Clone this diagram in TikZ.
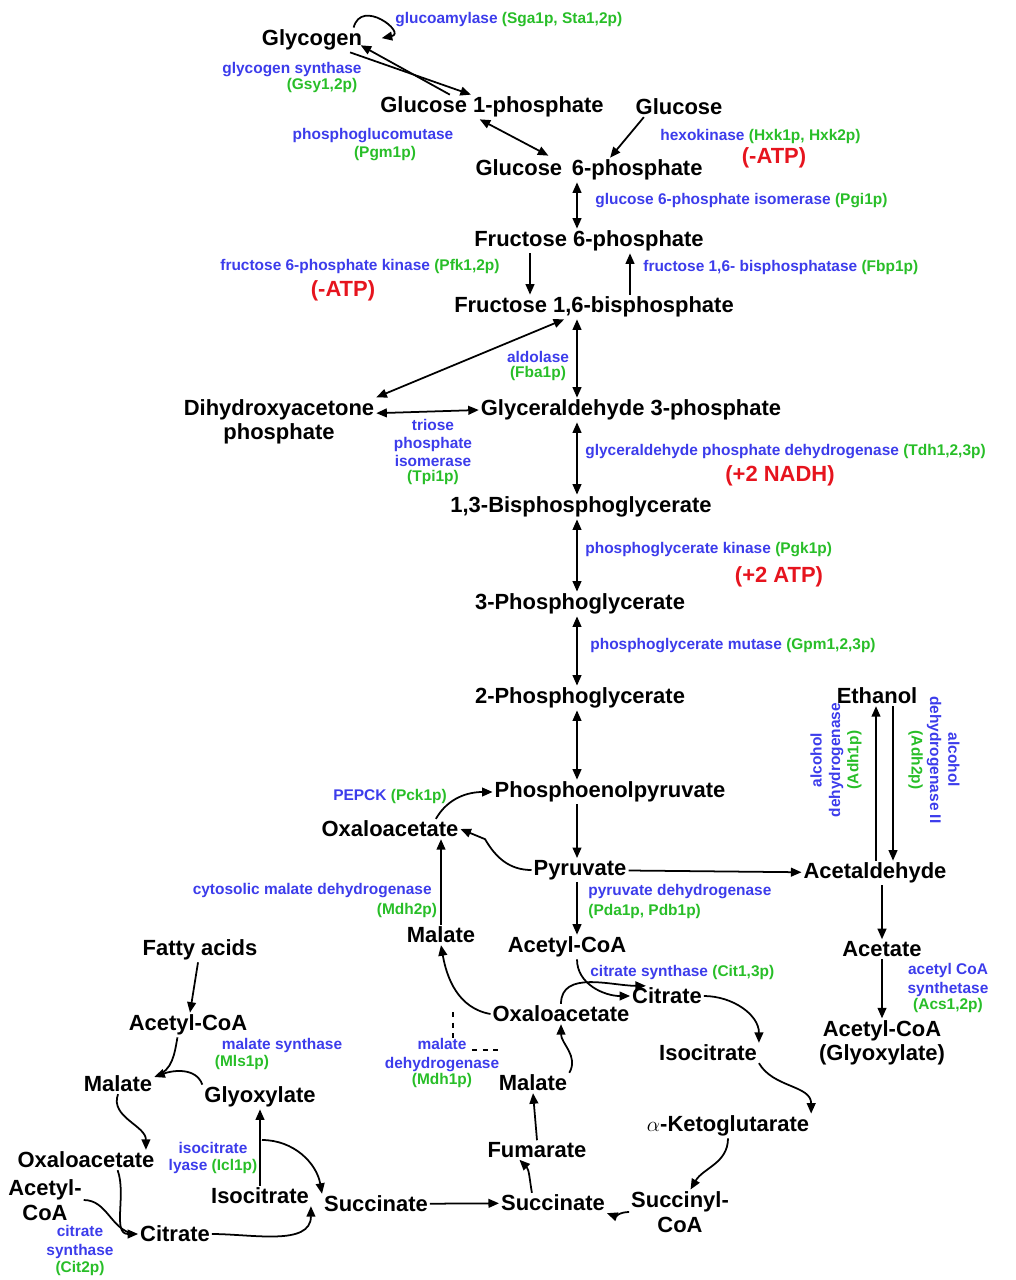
\documentclass[tikz,border=0pt]{standalone}
\usepackage{fontspec}
\setmainfont{Liberation Sans}
\usetikzlibrary{arrows.meta,calc}
\definecolor{eb}{RGB}{60,60,235}
\definecolor{eg}{RGB}{40,190,40}
\definecolor{er}{RGB}{230,20,30}
\begin{document}
\begin{tikzpicture}[x=0.02cm,y=-0.02cm,
 m/.style={font=\bfseries\fontsize{12.5}{14}\selectfont,inner sep=1pt,align=center},
 en/.style={font=\bfseries\fontsize{8.8}{10.5}\selectfont,text=eb,inner sep=0pt,align=center},
 gr/.style={font=\bfseries\fontsize{8.8}{10.5}\selectfont,text=eg,inner sep=0pt,align=center},
 rd/.style={font=\bfseries\fontsize{12.5}{14}\selectfont,text=er,inner sep=0pt},
 ar/.style={-{Triangle[length=6pt,width=5pt]},line width=1pt},
 dar/.style={{Triangle[length=6pt,width=5pt]}-{Triangle[length=6pt,width=5pt]},line width=1pt}]
\useasboundingbox (0,0) rectangle (1016,1280);
\coordinate (X) at (577,0);
% metabolites
\node[m] (gly) at (312,40) {Glycogen};
\node[m] (g1p) at (492,107) {Glucose 1-phosphate};
\node[m] (glc) at (679,107) {Glucose};
\node[m] (g6p) at (589,170) {Glucose\, 6-phosphate};
\node[m] (f6p) at (589,241) {Fructose 6-phosphate};
\node[m] (fbp) at (594,307) {Fructose 1,6-bisphosphate};
\node[m] (dhap) at (279,422) {Dihydroxyacetone\\phosphate};
\node[m] (gap) at (631,410) {Glyceraldehyde 3-phosphate};
\node[m] (bpg) at (581,507) {1,3-Bisphosphoglycerate};
\node[m] (pg3) at (580,604) {3-Phosphoglycerate};
\node[m] (pg2) at (580,698) {2-Phosphoglycerate};
\node[m] (pep) at (610,792) {Phosphoenolpyruvate};
\node[m] (oac) at (390,829) {Oxaloacetate};
\node[m] (pyr) at (580,870) {Pyruvate};
\node[m] (ald) at (875,873) {Acetaldehyde};
\node[m] (eth) at (877,696) {Ethanol};
\node[m] (malc) at (441,935) {Malate};
\node[m] (acoa) at (567,947) {Acetyl-CoA};
\node[m] (ace) at (882,949) {Acetate};
\node[m] (acg) at (882,1043) {Acetyl-CoA\\(Glyoxylate)};
\node[m] (cit) at (667,996) {Citrate};
\node[m] (oam) at (561,1014) {Oxaloacetate};
\node[m] (icit) at (708,1053) {Isocitrate};
\node[m] (malm) at (533,1083) {Malate};
\node[m] (akg) at (728,1126) {$\alpha$-Ketoglutarate};
\node[m] (fum) at (537,1150) {Fumarate};
\node[m] (sucm) at (553,1203) {Succinate};
\node[m] (scoa) at (680,1212) {Succinyl-\\CoA};
\node[m] (fa) at (200,950) {Fatty acids};
\node[m] (acl) at (188,1025) {Acetyl-CoA};
\node[m] (malg) at (118,1084) {Malate};
\node[m] (glx) at (260,1097) {Glyoxylate};
\node[m] (oag) at (86,1160) {Oxaloacetate};
\node[m] (acl2) at (45,1200) {Acetyl-\\CoA};
\node[m] (icg) at (260,1196) {Isocitrate};
\node[m] (citg) at (175,1234) {Citrate};
\node[m] (sucg) at (376,1204) {Succinate};
% enzymes
\node[en,anchor=west] (e1) at (395,20) {glucoamylase \textcolor{eg}{(Sga1p, Sta1,2p)}};
\node[en] (e2) at (292,70) {glycogen synthase};
\node[gr] (e2b) at (322,86) {(Gsy1,2p)};
\node[en] (e3) at (373,136) {phosphoglucomutase};
\node[gr] (e3b) at (385,154) {(Pgm1p)};
\node[en,anchor=west] (e4) at (660,137) {hexokinase \textcolor{eg}{(Hxk1p, Hxk2p)}};
\node[rd] (atp1) at (774,158) {(-ATP)};
\node[en,anchor=west] (e5) at (595,201) {glucose 6-phosphate isomerase \textcolor{eg}{(Pgi1p)}};
\node[en,anchor=west] (e6) at (220,267) {fructose 6-phosphate kinase \textcolor{eg}{(Pfk1,2p)}};
\node[rd] (atp2) at (343,291) {(-ATP)};
\node[en,anchor=west] (e7) at (643,268) {fructose 1,6- bisphosphatase \textcolor{eg}{(Fbp1p)}};
\node[en] (e8) at (538,357) {aldolase};
\node[gr] (e8b) at (538,374) {(Fba1p)};
\node[en] (e9) at (433,443) {triose\\phosphate\\isomerase};
\node[gr] (e9b) at (433,477) {(Tpi1p)};
\node[en,anchor=west] (e10) at (585,452) {glyceraldehyde phosphate dehydrogenase \textcolor{eg}{(Tdh1,2,3p)}};
\node[rd] (nadh) at (780,476) {(+2 NADH)};
\node[en,anchor=west] (e11) at (585,550) {phosphoglycerate kinase \textcolor{eg}{(Pgk1p)}};
\node[rd] (atp3) at (779,577) {(+2 ATP)};
\node[en,anchor=west] (e12) at (590,646) {phosphoglycerate mutase \textcolor{eg}{(Gpm1,2,3p)}};
\node[en] (e13) at (390,796) {PEPCK \textcolor{eg}{(Pck1p)}};
\node[en,anchor=east] (e14) at (432,891) {cytosolic malate dehydrogenase};
\node[gr] (e14b) at (407,910) {(Mdh2p)};
\node[en,anchor=west] (e15) at (588,892) {pyruvate dehydrogenase};
\node[gr,anchor=west] (e15b) at (588,911) {(Pda1p, Pdb1p)};
\node[en,rotate=90] (e16) at (836,760) {alcohol\\dehydrogenase\\\textcolor{eg}{(Adh1p)}};
\node[en,rotate=-90] (e17) at (934,760) {alcohol\\dehydrogenase II\\\textcolor{eg}{(Adh2p)}};
\node[en] (e18) at (948,980) {acetyl CoA\\synthetase};
\node[gr] (e18b) at (948,1005) {(Acs1,2p)};
\node[en,anchor=west] (e19) at (590,972) {citrate synthase \textcolor{eg}{(Cit1,3p)}};
\node[en] (e20) at (282,1045) {malate synthase};
\node[gr] (e20b) at (242,1062) {(Mls1p)};
\node[en] (e21) at (442,1055) {malate\\dehydrogenase};
\node[gr] (e21b) at (442,1080) {(Mdh1p)};
\node[en] (e22) at (213,1148) {isocitrate};
\node[en] (e22b) at (213,1166) {lyase \textcolor{eg}{(Icl1p)}};
\node[en] (e23) at (80,1242) {citrate\\synthase};
\node[gr] (e23b) at (80,1268) {(Cit2p)};
% connectors
\draw[ar] ([xshift=-6pt]gly.north east) .. controls +(8,-30) and +(25,-5) .. ([xshift=10pt,yshift=-6pt]gly.north east);
\draw[ar] ([xshift=-8pt]gly.south east) -- ([xshift=-12pt]g1p.north);
\draw[ar] ([xshift=-24pt]g1p.north) -- ([xshift=-2pt,yshift=-3pt]gly.east);
\draw[dar] ([xshift=-7pt]g1p.south) -- ($(g6p.north west)+(75,-2)$);
\draw[ar] ([xshift=-20pt]glc.south) -- ([xshift=12pt]g6p.north);
\draw[dar] (g6p.south -| X) -- (f6p.north -| X);
\coordinate (XL) at (530,0); \coordinate (XR) at (630,0);
\draw[ar] (f6p.south -| XL) -- (fbp.north -| XL);
\draw[ar] (fbp.north -| XR) -- (f6p.south -| XR);
\draw[dar] ([xshift=-17pt]fbp.south) -- (dhap.north east);
\draw[dar] (fbp.south -| X) -- (gap.north -| X);
\draw[dar] ([yshift=5pt]dhap.east) -- (gap.west);
\draw[dar] (gap.south -| X) -- (bpg.north -| X);
\draw[dar] (bpg.south -| X) -- (pg3.north -| X);
\draw[dar] (pg3.south -| X) -- (pg2.north -| X);
\draw[dar] (pg2.south -| X) -- (pep.north -| X);
\draw[ar] (pep.south -| X) -- (pyr.north -| X);
\draw[ar] (pyr) -- (ald);
\draw[ar] (pyr.west) to[out=180,in=-60] ([xshift=14pt]oac.south east) -- (oac.east);
\draw[ar] ([xshift=-14pt]oac.north east) to[out=60,in=180] (pep.west);
\draw[ar] (malc) -- (oac.south -| malc);
\draw[ar] (oam.west) to[out=170,in=-80] (malc.south);
\coordinate (XA) at (876,0); \coordinate (XB) at (893,0);
\draw[ar] (eth.south -| XB) -- (ald.north -| XB);
\draw[ar] (ald.north -| XA) -- (eth.south -| XA);
\draw[ar] (ald.south -| ace) -- (ace.north);
\draw[ar] (ace) -- (acg);
\draw[ar] (pyr.south -| X) -- (acoa.north -| X);
\draw[ar] (acoa.south -| X) to[out=-90,in=180] (cit.west);
\draw[ar] (oam.north) to[out=90,in=180] ([xshift=-12pt]cit.north);
\draw[ar] (cit.east) to[out=0,in=90] (icit.north east);
\draw[ar] (icit.south east) to[out=-60,in=90] (akg.north east);
\draw[ar] (akg.south) to[out=-90,in=60] ([xshift=6pt]scoa.north);
\draw[ar] (scoa.west) to[out=180,in=-20] (sucm.south east);
\draw[ar] ([xshift=-12pt]sucm.north) to[out=100,in=-45] ([xshift=-10pt]fum.south);
\draw[ar] (fum.north) -- (malm.south);
\draw[ar] (malm.north east) to[out=60,in=-90] (oam.south);
\draw[dashed,line width=1pt] (453,1012) -- (453,1042);
\draw[dashed,line width=1pt] (472,1050) -- (502,1050);
% glyoxylate cycle
\draw[ar] (fa) -- (acl);
\draw[ar] (glx.north west) to[out=110,in=20] ([yshift=4pt]malg.east);
\draw[line width=1pt] ([xshift=-6pt]acl.south) to[out=-100,in=20] ($(malg.east)+(2,-8)$);
\draw[ar] (malg.south) to[out=-110,in=90] ([xshift=-6pt]oag.north east);
\draw[ar] ([xshift=18pt]oag.south) to[out=-70,in=180] (citg.west);
\draw[line width=1pt] (acl2.east) to[out=0,in=170] ($(citg.west)+(-4,0)$);
\draw[ar] (citg.east) to[out=0,in=-90] (icg.south east);
\draw[ar] (icg.north) -- (glx.south);
\coordinate (gs) at (262,1140);
\draw[ar] (gs) to[out=0,in=100] (sucg.north west);
\draw[ar] (sucg) -- (sucm);
\end{tikzpicture}
\end{document}
